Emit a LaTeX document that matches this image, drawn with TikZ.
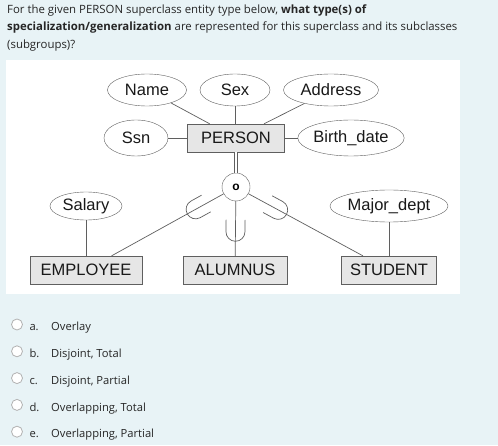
\documentclass[tikz,border=0pt]{standalone}
\usepackage{fontspec}
\setmainfont{Open Sans}
\newfontfamily\erfont{Liberation Sans}
\usetikzlibrary{shapes.geometric,calc}
\definecolor{pagebg}{RGB}{232,243,246}
\definecolor{boxfill}{RGB}{230,230,230}
\definecolor{linegray}{RGB}{95,95,95}
\definecolor{txt}{RGB}{38,38,38}
\tikzset{subsym/.pic={\draw[linegray,line width=0.7pt] (-12,9.5) -- (0,9.5) arc (90:-90:9.5) -- (-12,-9.5);}}

\begin{document}
\begin{tikzpicture}[x=1pt,y=1pt,
      attr/.style={ellipse,draw=linegray,fill=white,inner sep=0pt,text=black!90,
        font=\erfont\fontsize{16.5}{17}\selectfont},
      ent/.style={rectangle,draw=linegray,fill=boxfill,inner sep=0pt,minimum height=28pt,
        text=black!90,font=\erfont\fontsize{16.5}{17}\selectfont},
      link/.style={draw=linegray,line width=0.7pt},
      radio/.style={circle,draw=gray!60,fill=white,line width=0.8pt,minimum size=11pt,inner sep=0pt},
      qtext/.style={anchor=base west,inner sep=0pt,text=txt,font=\fontsize{11.4}{12}\selectfont},
      otext/.style={anchor=base west,inner sep=0pt,text=txt,font=\fontsize{11.2}{12}\selectfont}]
      \fill[pagebg] (0,0) rectangle (498,445);
      \useasboundingbox (0,0) rectangle (498,445);
      \fill[white] (6,151) rectangle (460,385);

      % question
      \node[qtext] (q1) at (7,431.5) {For the given PERSON superclass entity type below, \textbf{what type(s) of}};
      \node[qtext] (q2) at (7,414) {\textbf{specialization/generalization} are represented for this superclass and its subclasses};
      \node[qtext] (q3) at (7,396.5) {(subgroups)?};

      % superclass and its attributes
      \node[attr,minimum width=79pt,minimum height=32pt] (name) at (147,355) {Name};
      \node[attr,minimum width=70pt,minimum height=32pt] (sex) at (235,355) {Sex};
      \node[attr,minimum width=95pt,minimum height=32pt] (addr) at (331,355) {Address};
      \node[attr,minimum width=64pt,minimum height=36pt] (ssn) at (136,307) {Ssn};
      \node[ent,minimum width=97pt] (pers) at (236,307) {PERSON};
      \node[attr,minimum width=94pt,minimum height=36pt] (bdate) at (351,307) {Birth\_date};

      % specialization circle
      \node[circle,draw=linegray,fill=white,minimum size=28pt,inner sep=0pt,
        font=\erfont\bfseries\fontsize{12}{12}\selectfont] (d) at (236,258) {o};

      % subclasses
      \node[attr,minimum width=72pt,minimum height=28pt] (sal) at (86,239) {Salary};
      \node[attr,minimum width=118pt,minimum height=32pt] (maj) at (389,239) {Major\_dept};
      \node[ent,minimum width=112pt] (emp) at (86,175) {EMPLOYEE};
      \node[ent,minimum width=104pt] (alum) at (235,175) {ALUMNUS};
      \node[ent,minimum width=95pt] (stud) at (389,175) {STUDENT};

      \draw[link] (name) -- (pers);
      \draw[link] (sex) -- (sex |- pers.north);
      \draw[link] (addr) -- (pers);
      \draw[link] (ssn) -- (pers);
      \draw[link] (bdate) -- (pers);
      \draw[link,double=white,double distance=2pt] (pers) -- (d);
      \draw[link] (d) -- pic[pos=.25,sloped,allow upside down]{subsym} (emp);
      \draw[link] (d) -- pic[pos=.56,sloped,allow upside down]{subsym} (alum);
      \draw[link] (d) -- pic[pos=.26,sloped,allow upside down]{subsym} (stud);
      \draw[link] (sal) -- (sal |- emp.north);
      \draw[link] (maj) -- (maj |- stud.north);

      % answers
      \node[radio] (ra) at (17,120.5) {};
      \node[otext] (la) at (29.3,114.3) {a.};
      \node[otext] (ta) at (51,114.3) {Overlay};
      \node[radio] (rb) at (17,93.7) {};
      \node[otext] (lb) at (29.3,87.5) {b.};
      \node[otext] (tb) at (51,87.5) {Disjoint, Total};
      \node[radio] (rc) at (17,66.9) {};
      \node[otext] (lc) at (29.3,60.7) {c.};
      \node[otext] (tc) at (51,60.7) {Disjoint, Partial};
      \node[radio] (rd) at (17,40.1) {};
      \node[otext] (ld) at (29.3,33.9) {d.};
      \node[otext] (td) at (51,33.9) {Overlapping, Total};
      \node[radio] (re) at (17,13.3) {};
      \node[otext] (le) at (29.3,7.1) {e.};
      \node[otext] (te) at (51,7.1) {Overlapping, Partial};
\end{tikzpicture}
\end{document}
